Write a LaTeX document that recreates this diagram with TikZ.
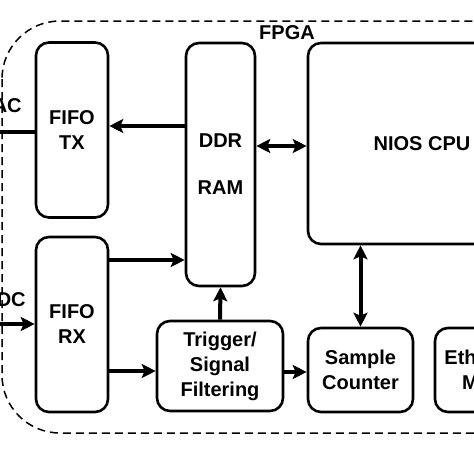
\documentclass[tikz,border=0pt]{standalone}
\usepackage{fontspec}
\setmainfont{Liberation Sans}
\usetikzlibrary{arrows.meta}

\tikzset{%
  every block/.style={
    draw,
    line width=2.6pt,
    rounded corners=13pt,
    align=center,
    inner sep=0pt,
    font=\fontsize{20}{25}\selectfont\bfseries
  },
  bus/.style={
    line width=4pt
  },
  fpga border/.style={
    line width=1.5pt,
    dash pattern=on 8pt off 5pt,
    rounded corners=58pt
  },
  label text/.style={
    font=\fontsize{20}{23}\selectfont\bfseries
  },
}

\begin{document}
\begin{tikzpicture}[x=1pt, y=-1pt, >={Stealth[length=14pt,width=14pt,inset=3pt]}]

\clip (0,0) rectangle (474,474);

% FPGA border
\draw [fpga border] (2,21) rectangle (600,433);
\node [label text] (fpga) at (287,33) {FPGA};

% FIFO blocks
\foreach \m/\l/\y in {tx/TX/130, rx/RX/324.5}
  \node [every block, minimum width=72pt, minimum height=175pt]
    (fifo\m) at (72,\y) {FIFO\\\l};

% MEMORY and CPU
\node [every block, minimum width=69pt, minimum height=243pt]
  (ddr) at (220.5,164.5) {DDR\\[22pt]RAM};
\node [every block, minimum width=228pt, minimum height=201pt]
  (nios) at (422,143.5) {NIOS CPU};

% Lower row
\node [every block, minimum width=126pt, minimum height=90pt]
  (trig) at (220,366) {Trigger/\\Signal\\Filtering};
\node [every block, minimum width=105pt, minimum height=84pt]
  (sample) at (360.5,370) {Sample\\Counter};
\node [every block, minimum width=100pt, minimum height=84pt]
  (eth) at (485,370) {Ethernet\\MAC};

% DAC / ADC ends
\coordinate (dac) at (-60,132);
\coordinate (adc) at (-60,324);
\draw [bus, ->] (fifotx.west |- dac) -- (dac);
\node [label text] (daclabel) at (0,106) {DAC};
\draw [bus, ->] (adc) -- (fiforx.west |- adc);
\node [label text] (adclabel) at (4,300) {ADC};

% Connections
\draw [bus, ->] (ddr.west |- 0,126) -- (fifotx.east |- 0,126);
\draw [bus, ->] (fiforx.east |- 0,260) -- (ddr.west |- 0,260);
\draw [bus, ->] (fiforx.east |- 0,371) -- (trig.west |- 0,371);
\draw [bus, ->] (trig.north) -- (ddr.south);
\draw [bus, ->] (trig.east |- 0,372) -- (sample.west |- 0,372);
\draw [bus, <->] (ddr.east |- 0,146) -- (nios.west |- 0,146);
\draw [bus, <->] (nios.south -| sample.north) -- (sample.north);

\end{tikzpicture}
\end{document}
